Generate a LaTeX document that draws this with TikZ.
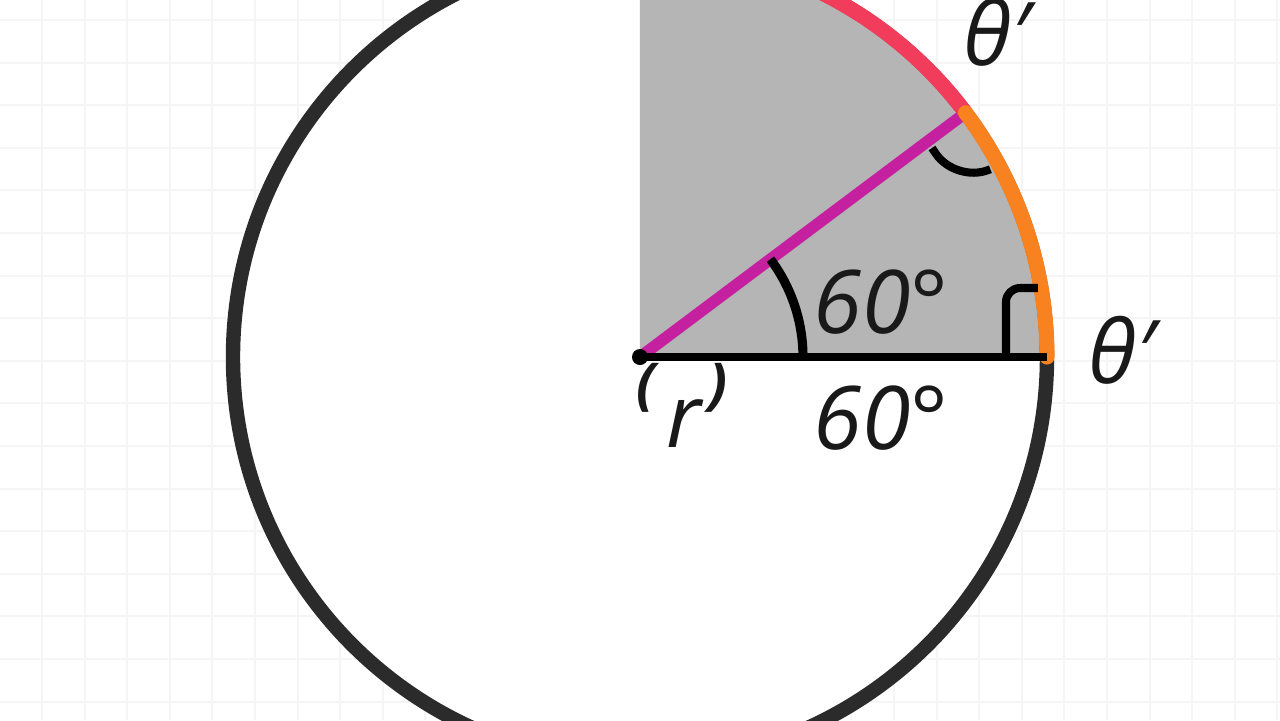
\documentclass[tikz,border=0pt]{standalone}
\usepackage{fontspec}
\setmainfont{Open Sans}
\usepackage{xcolor}
\usepackage{tikz}

\definecolor{ringgray}{HTML}{2B2B2B}
\definecolor{sectorgray}{HTML}{B5B5B5}
\definecolor{arcpink}{HTML}{F23C5C}
\definecolor{arcorange}{HTML}{F7821F}
\definecolor{chordmag}{HTML}{C4209F}

\begin{document}
\begin{tikzpicture}[x=0.1mm,y=0.1mm,
	gridline/.style={color=black!4, line width=0.6pt},
	ring/.style={draw=ringgray, line width=4.1pt},
	arcline/.style={line width=4.3pt},
	rightmark/.style={line width=2.3pt, rounded corners=4pt},
	lbl/.style={font=\fontsize{25}{30}\selectfont\itshape, text=black!90, inner sep=0pt}]

\fill[white] (-640,-363) rectangle (640,357);
\useasboundingbox (-640,-363) rectangle (640,357);

\foreach \k in {0,...,29}{
	\draw[gridline] ({-598+42.6*\k},-363)--({-598+42.6*\k},357);
}
\foreach \k in {0,...,16}{
	\draw[gridline] (-640,{337-42.6*\k})--(640,{337-42.6*\k});
}

\coordinate (O) at (0,0);
\coordinate (E) at (0:407);
\coordinate (N) at (90:407);
\coordinate (P) at (36.87:407);

\fill[white] (O) circle (407);
\fill[sectorgray] (O)--(E) arc (0:90:407)--cycle;
\draw[ring] (O) circle (407);

\draw[chordmag, line width=3.3pt] (O)--(P);
\draw[arcline, arcpink] (N) arc (90:36.87:407);
\draw[arcline, arcorange, line cap=round] (P) arc (36.87:0:407);

\draw[black, line width=2.3pt] (O)--(E);
\draw[black, line width=2.6pt] (163,0) arc (0:36.87:163);

\draw[rightmark] (366,0)--(366,69)--(398,69);
\begin{scope}[rotate=36.87]
\draw[rightmark, rounded corners=10pt] (359,-8)--(357,-50)--(393,-60);
\end{scope}

\fill[black] (O) circle (8);

\node[lbl] (angUp) at (241,55) {60°};
\node[lbl] (angDown) at (241,-61) {60°};
\node[lbl] (thetaTop) at (357,325) {θ′};
\node[lbl] (thetaRight) at (482,7) {θ′};
\node[lbl, anchor=base west] (radius) at (-4,-90) {\raisebox{0.5em}{\fontsize{16}{19}\selectfont\bfseries(}\hspace{0.12em}r\hspace{0.08em}\raisebox{0.5em}{\fontsize{16}{19}\selectfont\bfseries)}};

\end{tikzpicture}
\end{document}
